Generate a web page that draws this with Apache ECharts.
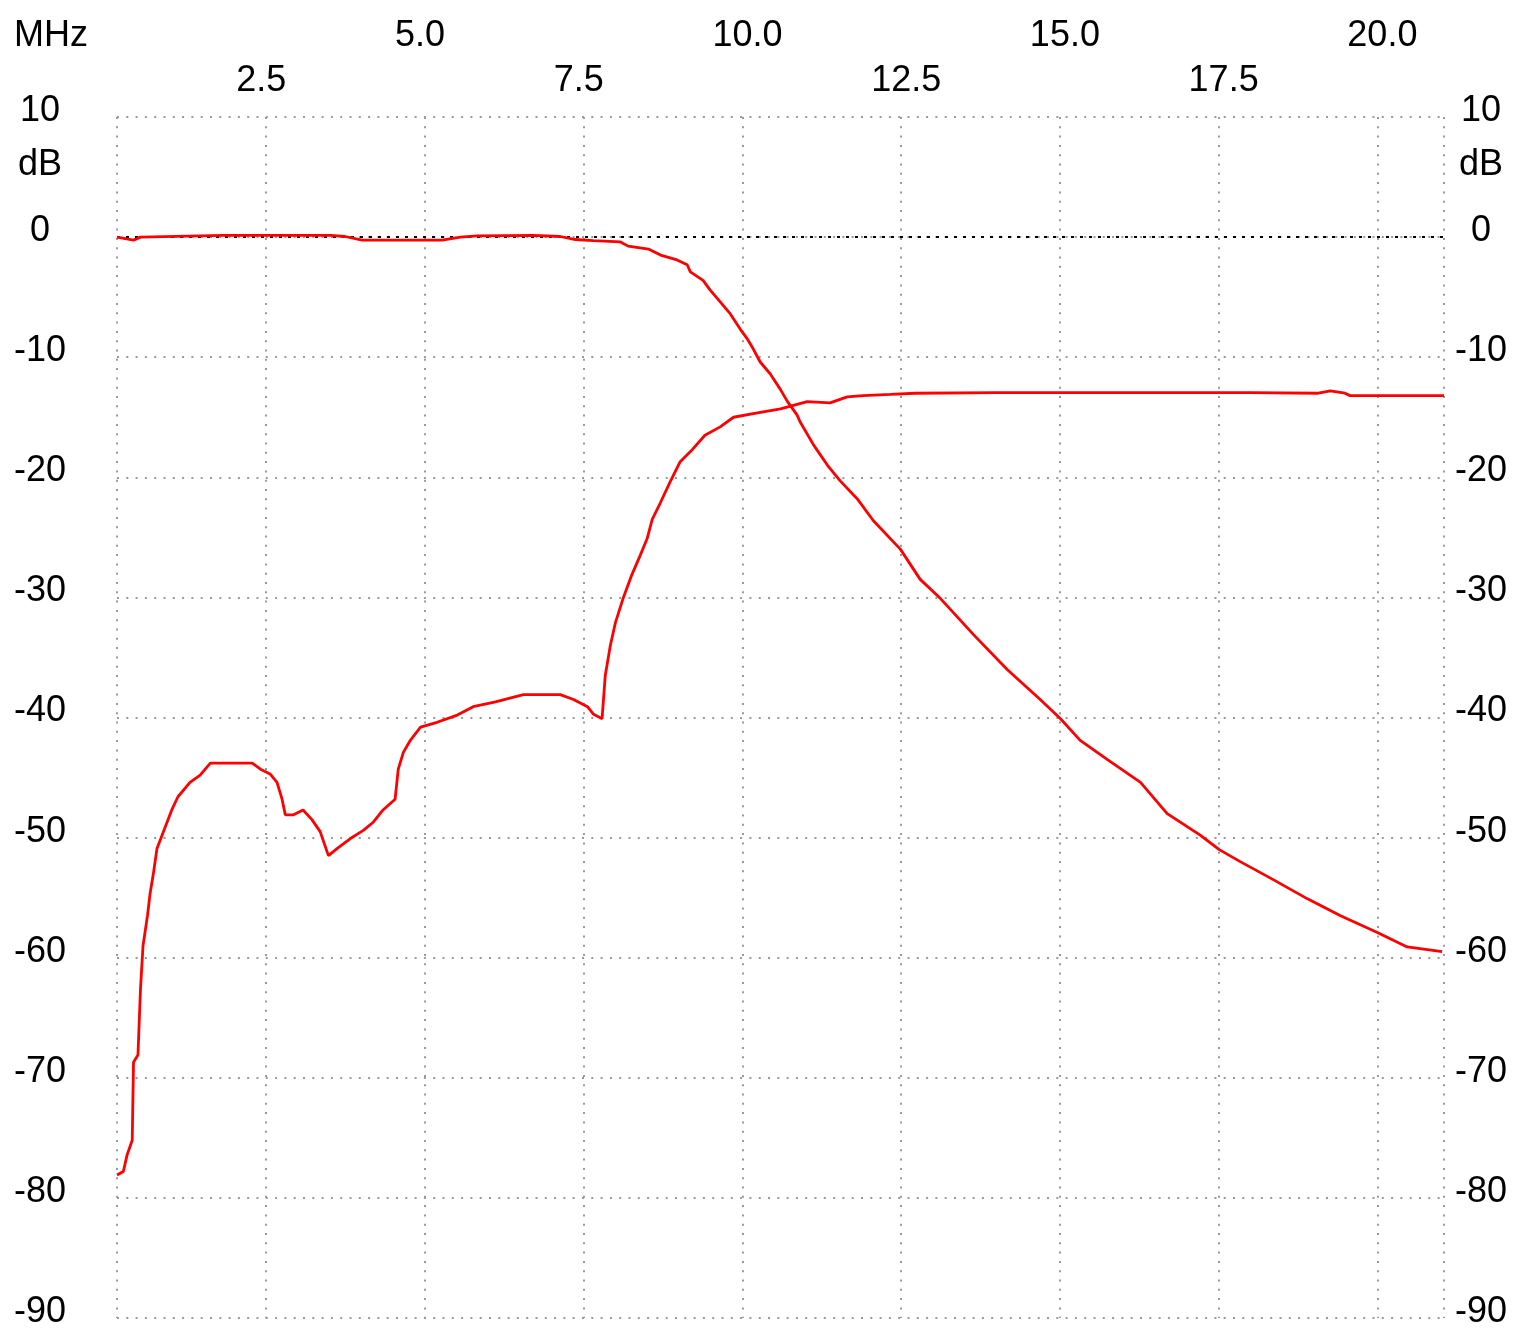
<!DOCTYPE html>
<html>
<head>
<meta charset="utf-8">
<script src="https://cdn.jsdelivr.net/npm/echarts@6/dist/echarts.min.js"></script>
<style>
html,body{margin:0;padding:0;background:#fff;}
#chart{width:1536px;height:1342px;}
</style>
</head>
<body>
<div id="chart"></div>
<script>
// Frequency axis (MHz)
const freqMin = 0.15;
const freqMax = 21.05;
const topRowTicks = [5, 10, 15, 20];
const secondRowTicks = [2.5, 7.5, 12.5, 17.5];
const freqGridTicks = [0.15, 2.5, 5, 7.5, 10, 12.5, 15, 17.5, 20, 21.05];
const dbTicks = [-90, -80, -70, -60, -50, -40, -30, -20, -10, 0, 10];
const dbUnitPos = 5.5;

// Trace 1: low-pass response
const lowFreq = [0.15, 0.41, 0.52, 1.82, 3.51, 3.74, 4.01, 5.27, 5.56, 5.82, 6.70, 7.13, 7.37, 7.65, 8.08, 8.20, 8.52, 8.71, 8.97, 9.13, 9.18, 9.38, 9.49, 9.65, 9.81, 9.97, 10.08, 10.17, 10.28, 10.44, 10.60, 10.71, 10.86, 10.91, 11.12, 11.34, 11.54, 11.81, 12.06, 12.49, 12.80, 13.12, 13.64, 14.17, 14.69, 15.01, 15.32, 15.75, 16.27, 16.69, 17.21, 17.51, 17.84, 18.36, 18.90, 19.42, 20.00, 20.47, 21.02];
const lowDb = [0, -0.25, 0, 0.15, 0.15, 0.05, -0.25, -0.25, 0, 0.1, 0.15, 0.05, -0.2, -0.3, -0.4, -0.75, -1.0, -1.5, -1.9, -2.3, -2.9, -3.6, -4.4, -5.4, -6.4, -7.7, -8.5, -9.3, -10.4, -11.4, -12.7, -13.7, -14.8, -15.4, -17.3, -19.0, -20.3, -21.8, -23.6, -26.0, -28.5, -30.1, -33.1, -36.0, -38.5, -40.1, -41.9, -43.5, -45.4, -48.0, -49.8, -51.0, -52.0, -53.5, -55.1, -56.5, -57.9, -59.1, -59.5];

// Trace 2: high-pass / reflection response
const highFreq = [0.15, 0.25, 0.31, 0.39, 0.41, 0.48, 0.52, 0.56, 0.63, 0.67, 0.72, 0.78, 0.86, 0.94, 1.02, 1.11, 1.30, 1.46, 1.62, 2.28, 2.41, 2.56, 2.67, 2.75, 2.80, 2.93, 3.08, 3.22, 3.35, 3.48, 3.62, 3.82, 4.03, 4.19, 4.34, 4.53, 4.58, 4.66, 4.77, 4.93, 5.19, 5.51, 5.76, 6.11, 6.55, 7.13, 7.34, 7.56, 7.65, 7.79, 7.84, 7.92, 8.00, 8.12, 8.26, 8.39, 8.50, 8.58, 8.71, 8.86, 9.02, 9.21, 9.41, 9.65, 9.86, 10.17, 10.60, 11.02, 11.38, 11.65, 11.90, 12.33, 12.72, 14.0, 16.0, 18.0, 19.07, 19.26, 19.49, 19.57, 21.05];
const highDb = [-78.1, -77.8, -76.4, -75.2, -68.7, -68.1, -62.6, -59.0, -56.5, -54.7, -53.1, -50.9, -49.8, -48.7, -47.6, -46.6, -45.4, -44.8, -43.8, -43.8, -44.3, -44.7, -45.4, -46.8, -48.1, -48.1, -47.7, -48.5, -49.5, -51.5, -50.9, -50.1, -49.4, -48.7, -47.7, -46.8, -44.3, -42.9, -41.9, -40.8, -40.4, -39.8, -39.1, -38.7, -38.1, -38.1, -38.5, -39.1, -39.7, -40.1, -36.5, -34.0, -32.1, -30.1, -28.1, -26.5, -25.1, -23.5, -22.1, -20.4, -18.7, -17.7, -16.5, -15.8, -15.0, -14.7, -14.3, -13.7, -13.8, -13.3, -13.2, -13.1, -13.0, -12.95, -12.95, -12.95, -13.0, -12.8, -13.0, -13.2, -13.2];

const FONT = 'Liberation Sans, Arial, sans-serif';
const FS = 36;
const gridLine = { show: true, lineStyle: { color: '#9a9a9a', width: 2, type: [2, 7.3] } };

const chart = echarts.init(document.getElementById('chart'), null, { renderer: 'canvas' });

const xLabelCommon = {
  margin: 0,
  align: 'center',
  verticalAlign: 'middle',
  formatter: v => '{a|' + Number(v).toFixed(1) + '}',
  rich: { a: { width: 60, align: 'left', fontSize: FS, fontFamily: FONT, color: '#000' } }
};

const yLabel = (margin) => ({
  margin: margin,
  align: 'center',
  verticalAlign: 'bottom',
  lineHeight: 12,
  fontSize: FS,
  fontFamily: FONT,
  color: '#000',
  customValues: dbTicks.concat([dbUnitPos]),
  formatter: v => (v === dbUnitPos ? 'dB' : String(v))
});

chart.setOption({
  animation: false,
  backgroundColor: '#fff',
  grid: { left: 117, right: 92, top: 117, bottom: 24, containLabel: false, outerBoundsMode: 'none' },
  xAxis: [
    {
      type: 'value', position: 'top', min: freqMin, max: freqMax, offset: 81,
      axisLine: { show: false, onZero: false },
      axisTick: { show: false, customValues: freqGridTicks },
      splitLine: gridLine,
      axisLabel: Object.assign({ customValues: topRowTicks }, xLabelCommon),
      name: 'MHz', nameLocation: 'start', nameGap: 29, nameMoveOverlap: false,
      nameTextStyle: { fontSize: FS, fontFamily: FONT, color: '#000', align: 'right', verticalAlign: 'middle' }
    },
    {
      type: 'value', position: 'top', min: freqMin, max: freqMax, offset: 36,
      axisLine: { show: false, onZero: false },
      axisTick: { show: false, customValues: secondRowTicks },
      splitLine: { show: false },
      axisLabel: Object.assign({ customValues: secondRowTicks }, xLabelCommon)
    }
  ],
  yAxis: [
    {
      type: 'value', position: 'left', min: -90, max: 10, interval: 10,
      axisLine: { show: false, onZero: false }, axisTick: { show: false },
      splitLine: gridLine,
      axisLabel: yLabel(77)
    },
    {
      type: 'value', position: 'right', min: -90, max: 10, interval: 10,
      axisLine: { show: false, onZero: false }, axisTick: { show: false },
      splitLine: { show: false },
      axisLabel: yLabel(37)
    }
  ],
  series: [
    {
      name: 'S21', type: 'line', xAxisIndex: 0, yAxisIndex: 0,
      data: lowFreq.map((f, i) => [f, lowDb[i]]),
      showSymbol: false, symbol: 'none',
      lineStyle: { color: '#ff0000', width: 2.8 },
      markLine: {
        silent: true, symbol: ['none', 'none'], label: { show: false },
        lineStyle: { color: '#000', width: 2, type: [3, 6] },
        data: [{ yAxis: 0 }],
        z: 1
      },
      z: 3
    },
    {
      name: 'S11', type: 'line', xAxisIndex: 0, yAxisIndex: 0,
      data: highFreq.map((f, i) => [f, highDb[i]]),
      showSymbol: false, symbol: 'none',
      lineStyle: { color: '#ff0000', width: 2.8 },
      z: 3
    }
  ]
});
</script>
</body>
</html>
